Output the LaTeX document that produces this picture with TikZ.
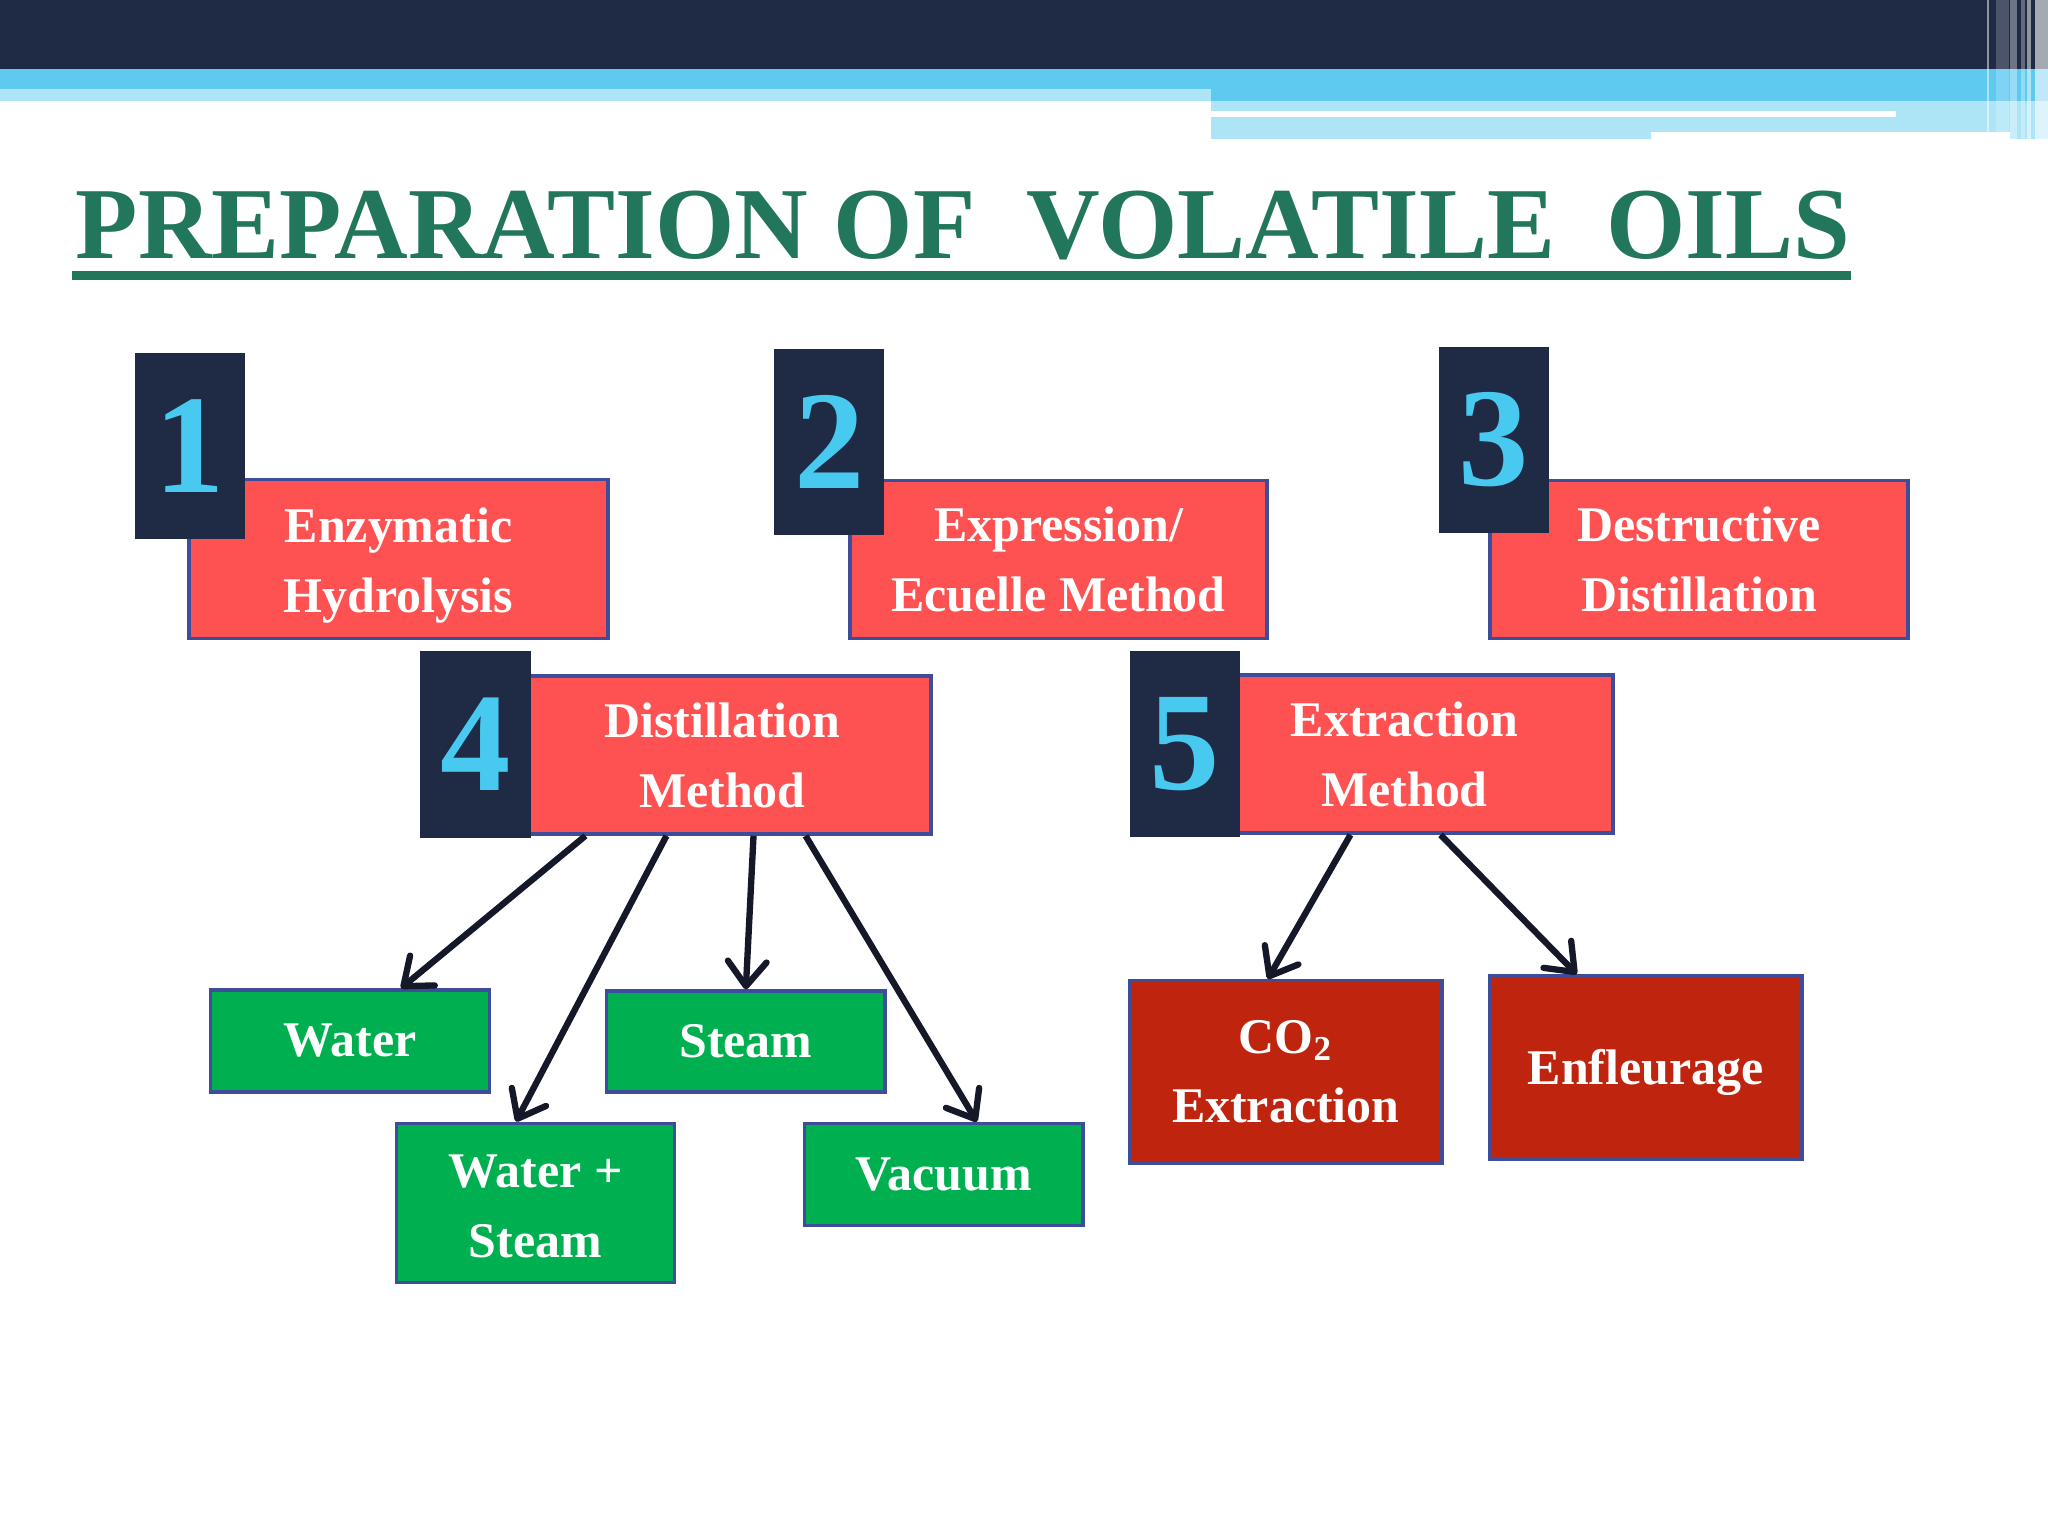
\documentclass[tikz,border=0pt]{standalone}
\usepackage{fontspec}
\setmainfont{Liberation Serif}
\usetikzlibrary{shapes,arrows.meta,positioning}

\definecolor{navy}{RGB}{31,42,68}
\definecolor{skyblue}{RGB}{95,202,240}
\definecolor{paleblue}{RGB}{173,229,247}
\definecolor{titlegreen}{RGB}{34,118,92}
\definecolor{boxred}{RGB}{254,82,82}
\definecolor{darkred}{RGB}{190,36,14}
\definecolor{boxgreen}{RGB}{0,176,80}
\definecolor{edgeblue}{RGB}{62,76,156}
\definecolor{numcyan}{RGB}{72,202,240}
\definecolor{arrowink}{RGB}{20,24,40}

% invisible strut that pushes a label a little lower
\newcommand{\lift}[1][0.94em]{\rule{0pt}{#1}}

\begin{document}
\begin{tikzpicture}[x=0.01cm, y=-0.01cm]
    % Define styles
    \tikzstyle{method} = [rectangle, draw=edgeblue, line width=1pt, fill=boxred, text=white, font=\fontsize{14.2}{19.9}\selectfont\bfseries, align=center, inner sep=0pt]
    \tikzstyle{numbox} = [rectangle, fill=navy, minimum width=1.1cm, minimum height=1.86cm, inner sep=0pt, text=numcyan, font=\fontsize{40}{40}\selectfont\bfseries]
    \tikzstyle{variant} = [method, fill=boxgreen]
    \tikzstyle{product} = [method, fill=darkred]
    \tikzstyle{arrow} = [line width=1.8pt, draw=arrowink, -{Straight Barb[length=7pt,width=11pt,round]}]

    \useasboundingbox (0,0) rectangle (2048,1536);

    % Header bands
    \fill[navy] (0,0) rectangle (2048,69);
    \fill[skyblue] (0,69) rectangle (2048,101);
    \fill[paleblue] (0,89) rectangle (1211,101);
    \fill[paleblue] (1211,101) rectangle (2048,132);
    \fill[white] (1211,111) rectangle (1896,117);
    \fill[paleblue] (1211,132) rectangle (1651,139);
    \fill[paleblue] (2010,132) rectangle (2048,139);
    \foreach \a/\b/\o in {1987/1989/0.5, 1996/2009/0.2, 2010/2017/0.35, 2021/2025/0.3, 2027/2031/0.5, 2035/2048/0.6}
        \fill[white, opacity=\o] (\a,0) rectangle (\b,139);

    % Title
    \node[anchor=base west, inner sep=0pt, text=titlegreen, font=\fontsize{29}{30}\selectfont\bfseries] (title) at (75,258) {PREPARATION OF~ VOLATILE~ OILS};
    \draw[titlegreen, line width=2.56pt] ([xshift=-0.03cm, yshift=-0.17cm]title.base west) -- ([yshift=-0.17cm]title.base east);

    % Methods
    \node [method, minimum width=4.19cm, minimum height=1.59cm] (enzyme) at (398.5,559) {\lift Enzymatic\\Hydrolysis};
    \node [method, minimum width=4.17cm, minimum height=1.58cm] (express) at (1058.5,559.6) {Expression/\\Ecuelle Method};
    \node [method, minimum width=4.18cm, minimum height=1.58cm] (destruct) at (1699,559.6) {Destructive\\Distillation};
    \node [method, minimum width=4.17cm, minimum height=1.58cm] (distil) at (722.5,755) {Distillation\\Method};
    \node [method, minimum width=4.17cm, minimum height=1.58cm] (extract) at (1404.5,754) {Extraction\\Method};

    % Numbers
    \node [numbox] (n1) at (190,445.8) {1};
    \node [numbox] (n2) at (829.3,442) {2};
    \node [numbox] (n3) at (1494,440) {3};
    \node [numbox] (n4) at (475.5,744.5) {4};
    \node [numbox] (n5) at (1184.8,743.8) {5};

    % Distillation kinds
    \node [variant, minimum width=2.79cm, minimum height=1.02cm] (water) at (350,1041) {Water};
    \node [variant, minimum width=2.78cm, minimum height=1.01cm] (steam) at (745.8,1041.6) {Steam};
    \node [variant, minimum width=2.78cm, minimum height=1.59cm] (wsteam) at (535.5,1202.8) {\lift[0.78em]Water +\\Steam};
    \node [variant, minimum width=2.78cm, minimum height=1.02cm] (vacuum) at (943.8,1174.5) {Vacuum};

    % Extraction kinds
    \node [product, minimum width=3.12cm, minimum height=1.82cm] (co2) at (1285.8,1071.7) {CO\textsubscript{2}\\Extraction};
    \node [product, minimum width=3.12cm, minimum height=1.83cm] (enfl) at (1645.8,1067.5) {\lift[0.92em]Enfleurage};

    % Arrows
    \draw [arrow] ([xshift=-1.37cm]distil.south) -- ([xshift=0.51cm]water.north);
    \draw [arrow] ([xshift=-0.56cm]distil.south) -- ([xshift=-0.195cm]wsteam.north);
    \draw [arrow] ([xshift=0.31cm]distil.south) -- (steam.north);
    \draw [arrow] ([xshift=0.83cm]distil.south) -- ([xshift=0.33cm]vacuum.north);
    \draw [arrow] ([xshift=-0.54cm]extract.south) -- ([xshift=-0.18cm]co2.north);
    \draw [arrow] ([xshift=0.36cm]extract.south) -- ([xshift=-0.69cm]enfl.north);
\end{tikzpicture}
\end{document}
